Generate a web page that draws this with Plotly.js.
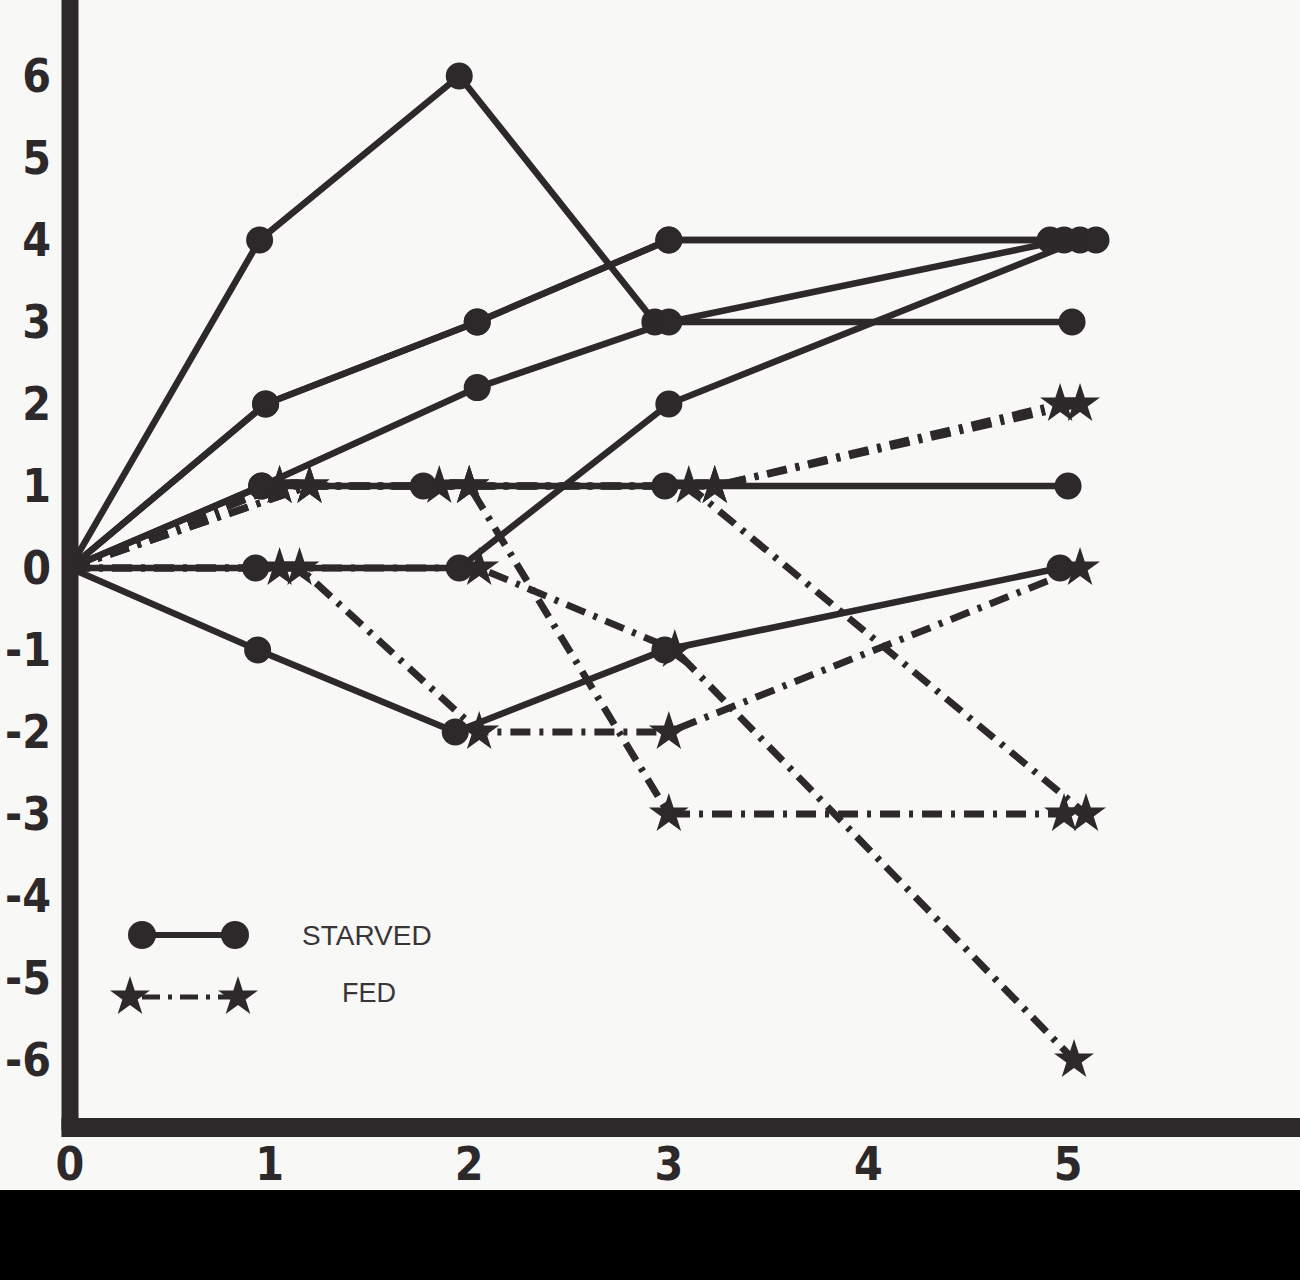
<!DOCTYPE html>
<html>
<head>
<meta charset="utf-8">
<script src="https://cdn.plot.ly/plotly-3.0.1.min.js"></script>
<style>
  html, body { margin: 0; padding: 0; background: #f8f8f7; }
  #chart { width: 1300px; height: 1190px; }
  #band { width: 1300px; height: 90px; background: #000; }
</style>
</head>
<body>
<div id="chart"></div>
<div id="band"></div>
<script>
// ---------------- data ----------------
// Starved animals (solid lines, circles)
const starved1X = [0, 0.95, 1.95, 2.93, 5.02];
const starved1Y = [0, 4, 6, 3, 3];
const starved2X = [0, 0.98, 2.04, 3.0, 4.91];
const starved2Y = [0, 2, 3, 4, 4];
const starved3X = [0, 0.96, 2.04, 3.0, 4.98];
const starved3Y = [0, 1, 2.2, 3, 4];
const starved4X = [0, 0.93, 1.95, 3.0, 5.06];
const starved4Y = [0, 0, 0, 2, 4];
const starved5X = [0, 0.96, 1.77, 2.98, 5.0];
const starved5Y = [0, 1, 1, 1, 1];
const starved6X = [0, 0.94, 1.93, 2.98, 4.96];
const starved6Y = [0, -1, -2, -1, 0];
const starved7X = [0, 0.98, 2.04, 3.0, 5.14];
const starved7Y = [0, 2, 3, 4, 4];

// Fed animals (dash-dot lines, stars)
const fed1X = [0, 1.05, 2.0, 3.23, 4.96];
const fed1Y = [0, 1, 1, 1, 2];
const fed2X = [0, 1.05, 2.0, 3.23, 5.06];
const fed2Y = [0, 1, 1, 1, 2];
const fed3X = [0, 1.2, 1.85, 3.1, 5.09];
const fed3Y = [0, 1, 1, 1, -3];
const fed4X = [0, 1.2, 2.0, 3.0, 4.98];
const fed4Y = [0, 1, 1, -3, -3];
const fed5X = [0, 1.05, 2.05, 3.03, 5.03];
const fed5Y = [0, 0, 0, -1, -6];
const fed6X = [0, 1.15, 2.05, 3.0, 5.06];
const fed6Y = [0, 0, -2, -2, 0];

// Tick labels
const xTickVals = [0, 1, 2, 3, 4, 5];
const xTickText = ['0', '1', '2', '3', '4', '5'];
const yTickVals = [-6, -5, -4, -3, -2, -1, 0, 1, 2, 3, 4, 5, 6];
const yTickText = ['-6', '-5', '-4', '-3', '-2', '-1', '0', '1', '2', '3', '4', '5', '6'];

// Legend labels
const legendLabels = ['STARVED', 'FED'];

// ---------------- styling ----------------
const INK = '#2d2829';
const DASHDOT = '20px,9px,4px,9px';
const TICKFONT = { family: '"Liberation Sans Narrow", "DejaVu Sans Condensed", sans-serif', size: 46, weight: 700, color: INK };

const starved = [
  [starved1X, starved1Y], [starved2X, starved2Y], [starved3X, starved3Y],
  [starved4X, starved4Y], [starved5X, starved5Y], [starved6X, starved6Y],
  [starved7X, starved7Y]
];
const fed = [
  [fed1X, fed1Y], [fed2X, fed2Y], [fed3X, fed3Y],
  [fed4X, fed4Y], [fed5X, fed5Y], [fed6X, fed6Y]
];

const traces = [];
fed.forEach(([x, y]) => {
  traces.push({
    type: 'scatter', mode: 'lines+markers', x: x, y: y, showlegend: false,
    line: { color: INK, width: 7, dash: DASHDOT },
    marker: { symbol: 'star', color: INK, opacity: 1, size: x.map(v => v === 0 ? 0 : 30), line: { width: 0 } },
    hoverinfo: 'skip'
  });
});
starved.forEach(([x, y]) => {
  traces.push({
    type: 'scatter', mode: 'lines+markers', x: x, y: y, showlegend: false,
    line: { color: INK, width: 6.5 },
    marker: { symbol: 'circle', color: INK, opacity: 1, size: x.map(v => v === 0 ? 0 : 27), line: { width: 0 } },
    hoverinfo: 'skip'
  });
});

// Legend samples, drawn on an overlay axis measured in page pixels
traces.push({
  type: 'scatter', mode: 'lines+markers', xaxis: 'x2', yaxis: 'y2',
  x: [142, 235], y: [935, 935], showlegend: false, hoverinfo: 'skip',
  line: { color: INK, width: 6 },
  marker: { symbol: 'circle', color: INK, opacity: 1, size: 28 }
});
traces.push({
  type: 'scatter', mode: 'lines+markers', xaxis: 'x2', yaxis: 'y2',
  x: [130, 238], y: [997, 997], showlegend: false, hoverinfo: 'skip',
  line: { color: INK, width: 5, dash: '4px,8px,18px,8px' },
  marker: { symbol: 'star', color: INK, opacity: 1, size: 30 }
});

const layout = {
  width: 1300, height: 1190,
  margin: { l: 52, r: 0, t: 0, b: 60 },
  paper_bgcolor: '#f8f8f7',
  plot_bgcolor: '#f8f8f7',
  showlegend: false,
  xaxis: {
    range: [-0.0902, 6.162], showgrid: false, zeroline: false, showline: false,
    tickvals: xTickVals, ticktext: xTickText, ticks: '',
    tickfont: TICKFONT, ticklabelstandoff: 3, fixedrange: true
  },
  yaxis: {
    range: [-6.854, 6.927], showgrid: false, zeroline: false, showline: false,
    tickvals: yTickVals, ticktext: yTickText, ticks: '',
    tickfont: TICKFONT, ticklabelstandoff: 0, fixedrange: true
  },
  xaxis2: { overlaying: 'x', anchor: 'y2', range: [52, 1300], visible: false, fixedrange: true },
  yaxis2: { overlaying: 'y', anchor: 'x2', range: [1130, 0], visible: false, fixedrange: true },
  shapes: [
    // y axis line
    { type: 'line', xref: 'x', yref: 'paper', x0: 0, x1: 0, y0: 0, y1: 1,
      line: { color: INK, width: 17 }, layer: 'above' },
    // x axis line
    { type: 'line', xref: 'x', yref: 'paper', x0: -0.043, x1: 6.162,
      ysizemode: 'pixel', yanchor: 0, y0: 2.5, y1: 2.5,
      line: { color: INK, width: 19 }, layer: 'above' }
  ],
  annotations: [
    { xref: 'x2', yref: 'y2', x: 300, y: 935, text: legendLabels[0], showarrow: false,
      xanchor: 'left', yanchor: 'middle',
      font: { family: '"Liberation Sans", Arial, sans-serif', size: 28, color: '#3a3536' } },
    { xref: 'x2', yref: 'y2', x: 340, y: 993, text: legendLabels[1], showarrow: false,
      xanchor: 'left', yanchor: 'middle',
      font: { family: '"Liberation Sans", Arial, sans-serif', size: 27, color: '#3a3536' } }
  ]
};

Plotly.newPlot('chart', traces, layout, { displayModeBar: false, staticPlot: true });
</script>
</body>
</html>
